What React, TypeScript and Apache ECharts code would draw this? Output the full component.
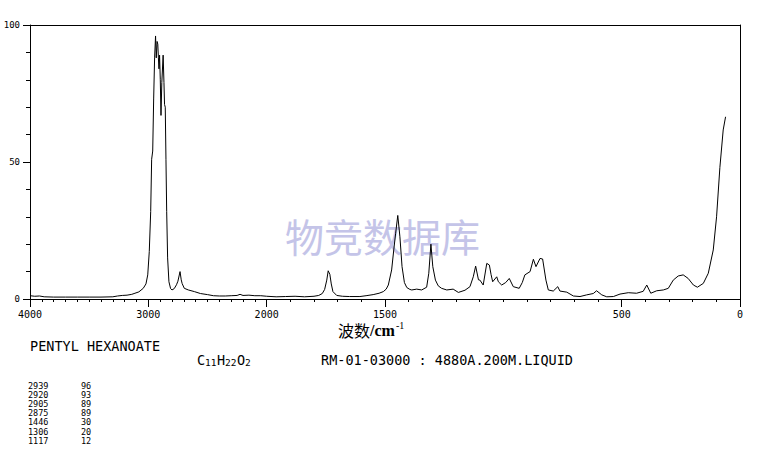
import React, { useEffect, useRef } from "react";
import * as echarts from "echarts";

// Raman shift (cm-1), descending, and relative intensity
const wavenumbers = [
  4000, 3960, 3920, 3880, 3800, 3700, 3600, 3500, 3400, 3300, 3260, 3220, 3180, 3140, 3113, 3080, 3043, 3020, 3005,
  2992, 2980, 2972, 2963, 2955, 2947, 2939, 2933, 2926, 2920, 2915, 2910, 2905, 2899, 2893, 2886, 2875, 2868, 2863,
  2857, 2851, 2845, 2837, 2826, 2812, 2800, 2781, 2762, 2750, 2732, 2722, 2714, 2696, 2662, 2611, 2560, 2500, 2450,
  2400, 2350, 2300, 2250, 2225, 2200, 2150, 2100, 2050, 2000,
  1960, 1920, 1880, 1840, 1800, 1780, 1765, 1755, 1746, 1740, 1733, 1727, 1720, 1704, 1680, 1650, 1606, 1580, 1550,
  1525, 1507, 1495, 1486, 1472, 1463, 1455, 1446, 1437, 1428, 1418, 1408, 1395, 1387, 1366, 1345, 1324, 1315, 1306,
  1298, 1287, 1275, 1261, 1239, 1212, 1190, 1162, 1141, 1127, 1117, 1105, 1099, 1085, 1070, 1059, 1052, 1045, 1028,
  1021, 1007, 990, 975, 958, 933, 920, 909, 887, 873, 862, 845, 834, 820, 810, 789, 770, 761, 732, 704, 676, 648, 620,
  606, 584, 563, 535, 507, 472, 437, 409, 394, 377, 352, 324, 303, 282, 261, 240, 219, 197, 180, 155, 134, 113, 99, 85,
  71, 61,
];
const intensities = [
  1.2, 1.0, 1.1, 0.8, 0.7, 0.7, 0.7, 0.7, 0.7, 0.8, 1.1, 1.3, 1.4, 1.7, 2.1, 2.6, 3.9, 5.5, 8.8,
  17.3, 31.9, 51, 54, 73, 88, 96, 88, 94, 93, 88, 84, 89, 80, 67, 79, 89, 79, 71,
  70, 51, 32, 15, 6.3, 3.8, 3.3, 3.8, 5.2, 6.5, 10, 7, 5.6, 3.9, 3.3, 2.7, 2.0, 1.6, 1.2,
  1.1, 1.1, 1.2, 1.3, 1.7, 1.3, 1.4, 1.2, 1.2, 1.0,
  0.8, 0.9, 1.0, 0.8, 1.0, 1.3, 2.0, 3.5, 6.9, 10.3, 9.0, 5.5, 2.7, 1.3, 1.0, 0.9, 0.9, 1.2, 1.6,
  2.1, 2.7, 3.6, 5.1, 10.6, 17.9, 24, 30.5, 22.7, 11.8, 6, 4.2, 3.5, 3.3, 3.6, 3.3, 4.3, 9.4, 20,
  11.8, 6.9, 4.8, 3.9, 3.3, 3.6, 2.4, 3.2, 4.5, 8.1, 12, 7, 6.9, 5.1, 13, 12.4, 9, 6.3, 8.1,
  6.3, 5.1, 6, 7.5, 4.5, 3.9, 6, 8.8, 10, 14.5, 11.8, 14.8, 14.6, 6.9, 3.3, 2.9, 4.5, 2.9, 2.5, 1.1, 0.9, 1.5, 2,
  3, 1.5, 0.8, 0.9, 1.8, 2.3, 2.1, 2.8, 5.1, 2.1, 3, 3.3, 3.9, 6.9, 8.4, 8.8, 7.5, 5.1, 4.3, 5.7, 9.4, 17.9, 30, 48,
  61.7, 66.5,
];

const peakWavenumbers = [2939, 2920, 2905, 2875, 1446, 1306, 1117];
const peakIntensities = [96, 93, 89, 89, 30, 20, 12];

const yTickLabels = [0, 50, 100];
const highMajorTicks = [4000, 3000, 2000];
const highTickLabels = [4000, 3000];
const lowMajorTicks = [2000, 1500, 500, 0];
const lowTickLabels = [2000, 1500, 500, 0];

const compoundName = "PENTYL HEXANOATE";
const sampleInfo = "RM-01-03000 : 4880A.200M.LIQUID";
const watermark = "物竞数据库";

const MONO = '"DejaVu Sans Mono", "Liberation Mono", monospace';

export default function App() {
  const ref = useRef<HTMLDivElement>(null);

  useEffect(() => {
    if (!ref.current) return;
    const chart = echarts.init(ref.current, undefined, { renderer: "svg" });

    const high: number[][] = [];
    const low: number[][] = [];
    wavenumbers.forEach((w, i) => {
      if (w >= 2000) high.push([w, intensities[i]]);
      if (w <= 2000) low.push([w, intensities[i]]);
    });

    const black = "#000";
    const gridTop = 25;
    const gridH = 274;
    const splitX = 30 + 710 / 3;

    const minorAxis = (grid: number, min: number, max: number) => ({
      type: "value",
      gridIndex: grid,
      position: "bottom",
      min,
      max,
      inverse: true,
      interval: 100,
      axisLine: { show: true, lineStyle: { color: black, width: 1 } },
      axisTick: { show: true, length: 3, lineStyle: { color: black } },
      axisLabel: { show: false },
      splitLine: { show: false },
    });
    const majorAxis = (grid: number, min: number, max: number, ticks: number[], labels: number[]) => ({
      type: "value",
      gridIndex: grid,
      position: "bottom",
      min,
      max,
      inverse: true,
      axisLine: { show: true, lineStyle: { color: black, width: 1 } },
      axisTick: { show: true, length: 8, customValues: ticks, lineStyle: { color: black } },
      axisLabel: {
        show: true,
        customValues: labels,
        color: black,
        fontSize: 10,
        fontFamily: MONO,
        margin: 10,
        formatter: (v: number) => String(v),
      },
      splitLine: { show: false },
    });
    const topAxis = (grid: number, min: number, max: number) => ({
      type: "value",
      gridIndex: grid,
      position: "top",
      min,
      max,
      inverse: true,
      axisLine: { show: true, lineStyle: { color: black, width: 1 } },
      axisTick: { show: false },
      axisLabel: { show: false },
      splitLine: { show: false },
    });

    const textEl = (text: string, x: number, y: number, font: string, align = "left", fill = black) => ({
      type: "text",
      x,
      y,
      silent: true,
      style: { text, font, fill, textAlign: align, textVerticalAlign: "middle" },
    });

    const graphics: any[] = [
      { ...textEl(watermark, 285, 235, '39px "Noto Sans CJK SC"', "left", "#c4c4e8"), z: 0 },
      textEl("波数", 338, 330, '16px "Noto Sans CJK SC"'),
      textEl("/cm", 370, 330, 'bold 16px "Liberation Serif", "DejaVu Serif", serif'),
      textEl("-1", 396, 325, '10px "Liberation Serif", "DejaVu Serif", serif'),
      textEl(compoundName, 30, 346, `13.5px ${MONO}`),
      textEl("C", 197, 360, `13.5px ${MONO}`),
      textEl("11", 205, 362.5, `9.5px ${MONO}`),
      textEl("H", 217, 360, `13.5px ${MONO}`),
      textEl("22", 225, 362.5, `9.5px ${MONO}`),
      textEl("O", 237, 360, `13.5px ${MONO}`),
      textEl("2", 245, 362.5, `9.5px ${MONO}`),
      textEl(sampleInfo, 321, 360, `13.5px ${MONO}`),
    ];
    peakWavenumbers.forEach((w, i) => {
      const y = 386 + 9.1 * i;
      graphics.push(textEl(String(w), 28, y, `8.5px ${MONO}`));
      graphics.push(textEl(String(peakIntensities[i]), 81, y, `8.5px ${MONO}`));
    });

    chart.setOption({
      animation: false,
      backgroundColor: "#fff",
      grid: [
        { left: 30, top: gridTop, width: splitX - 30, height: gridH, containLabel: false },
        { left: splitX, top: gridTop, width: 740 - splitX, height: gridH, containLabel: false },
      ],
      xAxis: [
        minorAxis(0, 2000, 4000),
        majorAxis(0, 2000, 4000, highMajorTicks, highTickLabels),
        topAxis(0, 2000, 4000),
        minorAxis(1, 0, 2000),
        majorAxis(1, 0, 2000, lowMajorTicks, lowTickLabels),
        topAxis(1, 0, 2000),
      ],
      yAxis: [
        {
          type: "value",
          gridIndex: 0,
          position: "left",
          min: 0,
          max: 100,
          interval: 50,
          axisLine: { show: true, lineStyle: { color: black, width: 1 } },
          axisTick: { show: true, length: 7, lineStyle: { color: black } },
          minorTick: { show: true, splitNumber: 5, length: 4, lineStyle: { color: black } },
          axisLabel: {
            show: true,
            color: black,
            fontSize: 9,
            fontFamily: MONO,
            margin: 10,
            formatter: (v: number) => (yTickLabels.includes(v) ? String(v) : ""),
          },
          splitLine: { show: false },
        },
        {
          type: "value",
          gridIndex: 1,
          position: "right",
          min: 0,
          max: 100,
          axisLine: { show: true, lineStyle: { color: black, width: 1 } },
          axisTick: { show: false },
          axisLabel: { show: false },
          splitLine: { show: false },
        },
      ],
      graphic: graphics,
      series: [
        {
          type: "line",
          xAxisIndex: 0,
          yAxisIndex: 0,
          data: high,
          showSymbol: false,
          symbol: "none",
          lineStyle: { color: black, width: 1 },
          z: 5,
        },
        {
          type: "line",
          xAxisIndex: 3,
          yAxisIndex: 1,
          data: low,
          showSymbol: false,
          symbol: "none",
          lineStyle: { color: black, width: 1 },
          z: 5,
        },
      ],
    });

    return () => chart.dispose();
  }, []);

  return (
    <div
      ref={ref}
      style={{ position: "absolute", left: 0, top: 0, width: 765, height: 470, background: "#fff" }}
    />
  );
}
